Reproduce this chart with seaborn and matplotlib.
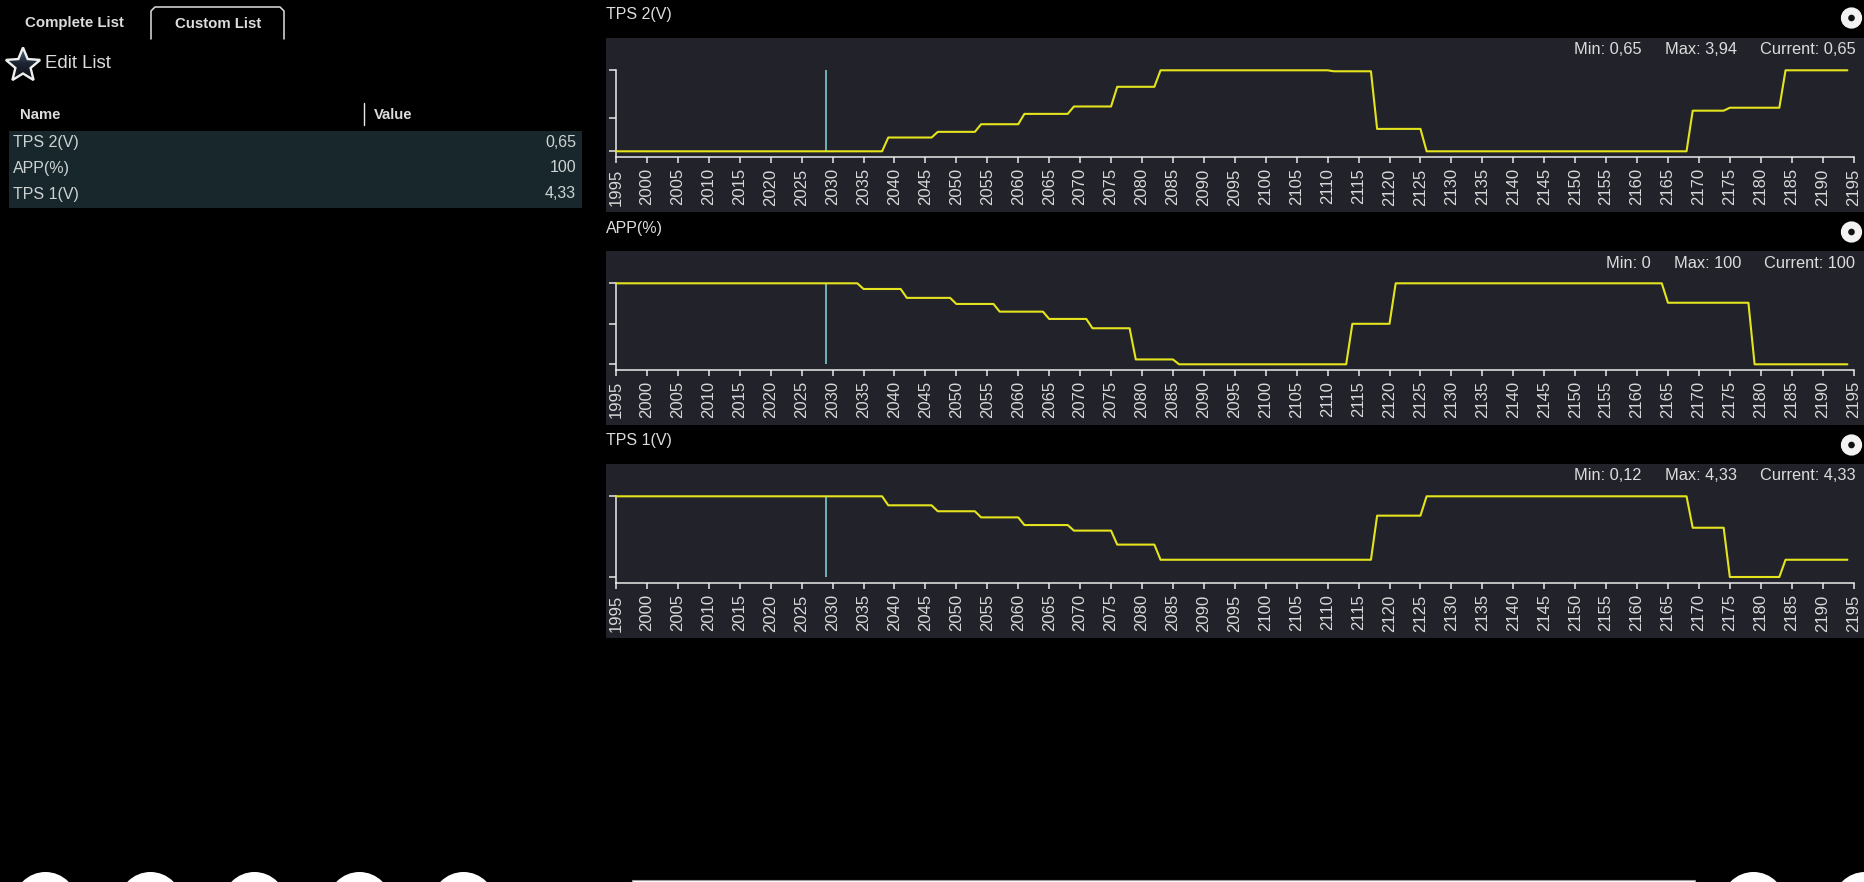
import matplotlib
matplotlib.use("Agg")
import matplotlib.pyplot as plt
from matplotlib.patches import Circle, Polygon, Rectangle
import numpy as np
import pandas as pd
import seaborn as sb

# Break points of the three logged channels (sample number, value)
tps2_x = [1995, 2038, 2039, 2046, 2047, 2053, 2054, 2060, 2061, 2068, 2069, 2075, 2076, 2082, 2083,
          2110, 2111, 2117, 2118, 2125, 2126, 2168, 2169, 2174, 2175, 2183, 2184, 2194]
tps2_y = [0.65, 0.65, 1.21, 1.21, 1.44, 1.44, 1.75, 1.75, 2.17, 2.17, 2.47, 2.47, 3.27, 3.27, 3.94,
          3.94, 3.90, 3.90, 1.56, 1.56, 0.65, 0.65, 2.30, 2.30, 2.42, 2.42, 3.94, 3.94]

app_x = [1995, 2034, 2035, 2041, 2042, 2049, 2050, 2056, 2057, 2064, 2065, 2071, 2072, 2078, 2079,
         2085, 2086, 2113, 2114, 2120, 2121, 2164, 2165, 2178, 2179, 2194]
app_y = [100, 100, 93, 93, 82, 82, 74.5, 74.5, 65, 65, 56, 56, 44.5, 44.5, 6,
         6, 0, 0, 50, 50, 100, 100, 76, 76, 0, 0]

tps1_x = [1995, 2038, 2039, 2046, 2047, 2053, 2054, 2060, 2061, 2068, 2069, 2075, 2076, 2082, 2083,
          2117, 2118, 2125, 2126, 2168, 2169, 2174, 2175, 2183, 2184, 2194]
tps1_y = [4.33, 4.33, 3.86, 3.86, 3.55, 3.55, 3.23, 3.23, 2.83, 2.83, 2.54, 2.54, 1.81, 1.81, 1.02,
          1.02, 3.32, 3.32, 4.33, 4.33, 2.69, 2.69, 0.12, 0.12, 1.02, 1.02]

names = ["TPS 2(V)", "APP(%)", "TPS 1(V)"]
list_values = ["0,65", "100", "4,33"]
mins = ["0,65", "0", "0,12"]
maxs = ["3,94", "100", "4,33"]
currents = ["0,65", "100", "4,33"]
y_ranges = [(0.65, 3.94), (0, 100), (0.12, 4.33)]
y_ticks = [[0.65, 2.0, 3.94], [0, 50, 100], [0.12, 4.33]]
x_ticks = list(range(1995, 2196, 5))
cursor_x = 2029

# Layout in pixels of the 1865x882 screen
W, H = 1865, 882
panel_top = [38, 251, 464]
panel_bottom = [212, 425, 638]
axis_y = [157, 370, 583]
max_y = [70.3, 283.3, 496.3]
min_y = [151.3, 364.3, 577]
title_y = [15, 228, 440]
stats_y = [50, 263, 476]
icon_y = [18, 232, 445]
x_left, x_right = 616, 1853.6

BG_PANEL = "#22222a"
TEXT = "#dcdcdc"
LINE = "#e4e41e"
CURSOR = "#6fb4ba"

sb.set_theme(style="dark")
plt.rcParams["font.family"] = ["Liberation Sans", "DejaVu Sans"]

fig = plt.figure(figsize=(W / 100, H / 100), dpi=100, facecolor="black")

# Screen layer, everything around the plots is drawn here in pixel coordinates
bg = fig.add_axes([0, 0, 1, 1], zorder=0)
bg.set_xlim(0, W)
bg.set_ylim(H, 0)
bg.axis("off")
bg.add_patch(Rectangle((0, 0), W, H, color="black", zorder=0))

# Tabs
bg.text(74, 23.5, "Complete List", color=TEXT, fontsize=10.8, fontweight="bold", ha="center", va="center")
bg.text(218, 23.5, "Custom List", color=TEXT, fontsize=10.8, fontweight="bold", ha="center", va="center")
bg.plot([151, 151, 155, 280, 284, 284], [39, 11, 7, 7, 11, 39], color="#e0e0e0", lw=1.1)

# Star icon
angles = np.pi / 2 + np.arange(10) * np.pi / 5
radii = np.array([18, 8] * 5)
star_xy = np.column_stack([23 + radii * np.cos(angles), 65.5 - radii * np.sin(angles)])
grad = np.linspace(0, 1, 40).reshape(-1, 1)
colors = np.interp(grad, [0, 0.45, 1], [0.42, 0.14, 0.03])
grad_img = np.dstack([colors * 0.85, colors * 1.05, np.clip(colors * 1.4, 0, 1)])
im = bg.imshow(grad_img, extent=(3, 43, 85, 45), aspect="auto", zorder=2)
star = Polygon(star_xy, closed=True, facecolor="none", edgecolor="#f0f0f0", lw=1.7, zorder=3)
bg.add_patch(star)
im.set_clip_path(star)
bg.set_xlim(0, W)
bg.set_ylim(H, 0)
bg.text(45, 64, "Edit List", color=TEXT, fontsize=13.4, ha="left", va="center")

# Signal list
bg.text(20, 115, "Name", color=TEXT, fontsize=10.7, fontweight="bold", ha="left", va="center")
bg.text(374, 115, "Value", color=TEXT, fontsize=10.7, fontweight="bold", ha="left", va="center")
bg.plot([363.5, 363.5], [103, 125], color="#e8e8e8", lw=1)
bg.add_patch(Rectangle((9, 131), 573, 76.5, color="#18272c", lw=0))
for name, val, y in zip(names, list_values, [142.5, 168, 194]):
    bg.text(13, y, name, color="#cdd3d3", fontsize=11.5, ha="left", va="center")
    bg.text(576, y, val, color="#cdd3d3", fontsize=11.5, ha="right", va="center")

# Buttons cut off by the bottom edge
for cx in [45.5, 150.5, 254.5, 359.5, 463.5, 1753.5, 1865]:
    bg.add_patch(Circle((cx, 904), 32, color="white", lw=0))
bg.add_patch(Rectangle((632, 879.5), 1063, 4, facecolor="white", edgecolor="#999999", lw=0.8))

# The three charts
series = [(tps2_x, tps2_y), (app_x, app_y), (tps1_x, tps1_y)]
for i, (xs, ys) in enumerate(series):
    bg.add_patch(Rectangle((606, panel_top[i]), W - 606, panel_bottom[i] - panel_top[i], color=BG_PANEL, lw=0))
    bg.text(606, title_y[i], names[i], color=TEXT, fontsize=11.5, ha="left", va="center")
    bg.add_patch(Circle((1851.5, icon_y[i]), 7, facecolor="#111111", edgecolor="#f2f2f2", lw=5.2))

    # stats are laid out from the right like the app does
    cur = "Current: " + currents[i]
    t = bg.text(1855.5, stats_y[i], cur, color=TEXT, fontsize=11.8, ha="right", va="center")
    fig.canvas.draw()
    x0 = bg.transData.inverted().transform(t.get_window_extent().get_points())[0][0]
    t = bg.text(x0 - 23, stats_y[i], "Max: " + maxs[i], color=TEXT, fontsize=11.8, ha="right", va="center")
    x0 = bg.transData.inverted().transform(t.get_window_extent().get_points())[0][0]
    bg.text(x0 - 23, stats_y[i], "Min: " + mins[i], color=TEXT, fontsize=11.8, ha="right", va="center")

    lo, hi = y_ranges[i]
    gap = (axis_y[i] - min_y[i]) / (min_y[i] - max_y[i]) * (hi - lo)
    ax = fig.add_axes([x_left / W, 1 - axis_y[i] / H, (x_right - x_left) / W, (axis_y[i] - max_y[i]) / H], zorder=1)
    ax.patch.set_alpha(0)
    df = pd.DataFrame({"x": xs, "y": ys})
    sb.lineplot(data=df, x="x", y="y", ax=ax, color=LINE, lw=1.5, estimator=None, sort=False, clip_on=False, zorder=3)
    ax.vlines(cursor_x, lo, hi, color=CURSOR, lw=1.4, clip_on=False, zorder=2)

    ax.set_xlim(1995, 2195)
    ax.set_ylim(lo - gap, hi)
    ax.set_xticks(x_ticks)
    ax.set_xticklabels([str(v) for v in x_ticks], rotation=90, fontsize=12, color="#d8d8d8")
    ax.set_yticks(y_ticks[i])
    ax.set_yticklabels([])
    ax.set_xlabel("")
    ax.set_ylabel("")
    ax.grid(False)
    ax.tick_params(axis="x", bottom=True, length=4.5, width=1.1, color="#e8e8e8", pad=3.6)
    ax.tick_params(axis="y", left=True, length=5, width=1.1, color="#e8e8e8")
    for side in ["top", "right"]:
        ax.spines[side].set_visible(False)
    for side in ["left", "bottom"]:
        ax.spines[side].set_color("#ececec")
        ax.spines[side].set_linewidth(1.1)

fig.savefig("out.png", dpi=100, facecolor="black")
